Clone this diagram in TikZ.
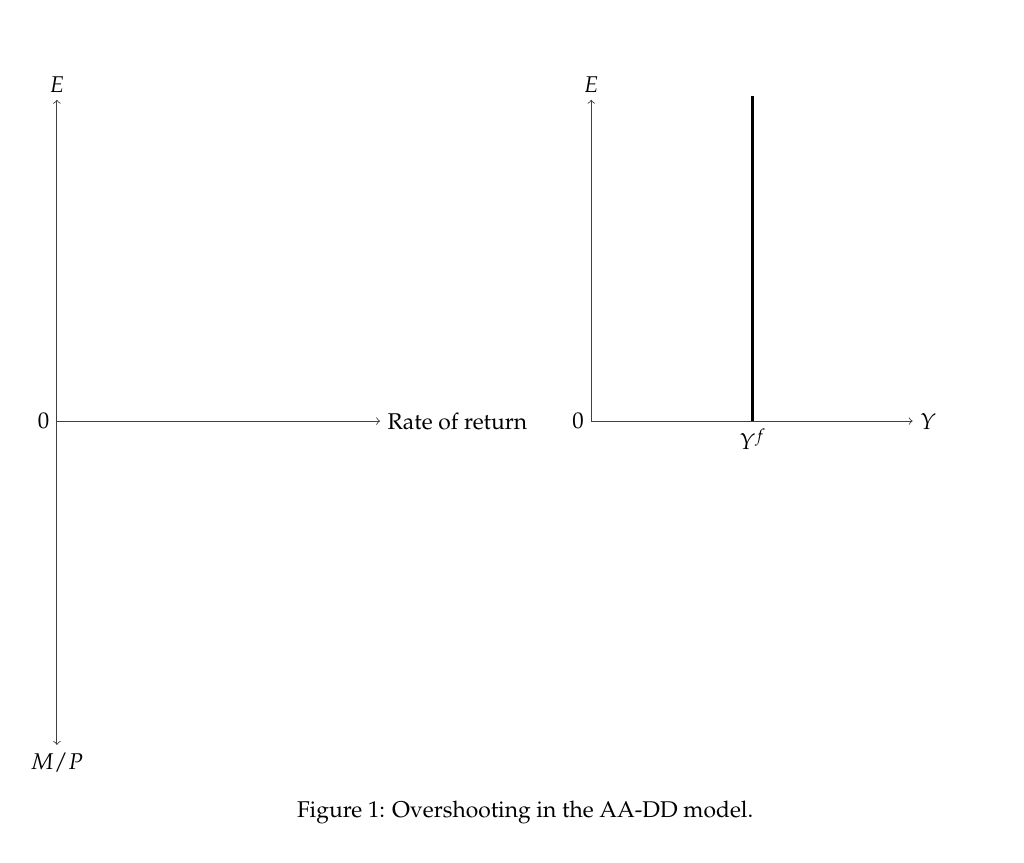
\documentclass[tikz,border=0pt]{standalone}
\usepackage[T1]{fontenc}
\usepackage{amsmath}
\usepackage{mathpazo}
\usepackage{tikz}

\begin{document}
\begin{tikzpicture}[every node/.style={font=\fontsize{10.6}{12.7}\selectfont}]
  \useasboundingbox (-0.93,-7.21) rectangle (15.80,6.88);

  % asset market panel
  \coordinate (O1) at (0,0);
  \draw[->,black!75] (O1) -- (5.28,0) node[anchor=west,black] (rr) {Rate of return};
  \draw[->,black!75] (O1) -- (0,5.25) node[anchor=south,black] (e1) {$E$};
  \draw[->,black!75] (O1) -- (0,-5.29) node[anchor=north,black] (mp) {$M/P$};
  \node[anchor=east] (z1) at (O1) {$0$};

  % output market panel
  \begin{scope}[xshift=8.73cm]
    \coordinate (O2) at (0,0);
    \draw[->,black!75] (O2) -- (5.25,0) node[anchor=west,black] (y) {$Y$};
    \draw[->,black!75] (O2) -- (0,5.25) node[anchor=south,black] (e2) {$E$};
    \node[anchor=east] (z2) at (O2) {$0$};
    \coordinate (yf) at (2.64,0);
    \draw[line width=1.4pt] (yf) -- (2.64,5.31);
    \node[anchor=north] (yflab) at (yf) {$Y^f$};
  \end{scope}

  \node (cap) at (7.65,-6.39) {Figure 1: Overshooting in the AA-DD model.};
\end{tikzpicture}
\end{document}
